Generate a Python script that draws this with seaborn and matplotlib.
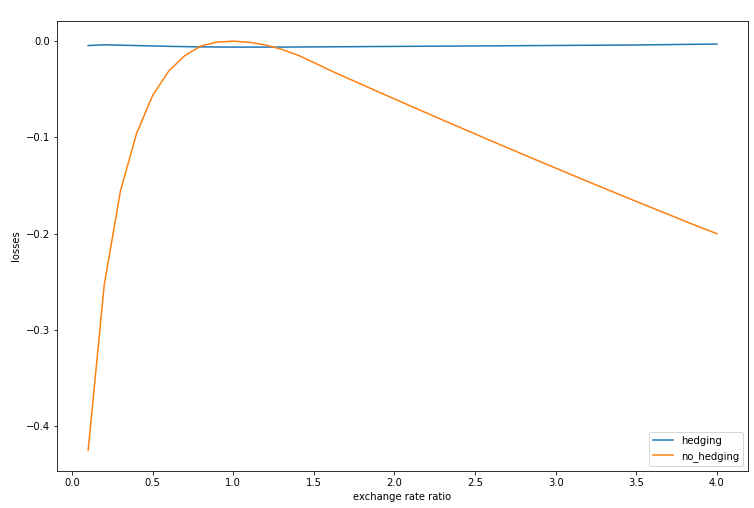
import matplotlib
matplotlib.use("Agg")
import matplotlib.pyplot as plt
import pandas as pd
import seaborn as sns

# exchange rate ratio grid (0.1 .. 4.0)
ratio = [round(0.1 * i, 1) for i in range(1, 41)]

# losses
hedging = [-0.0046, -0.0038, -0.0042, -0.0046, -0.0050, -0.0054, -0.0057, -0.0060, -0.0061, -0.0062,
           -0.0062, -0.0062, -0.0062, -0.0061, -0.0060, -0.0059, -0.0058, -0.0057, -0.0056, -0.0055,
           -0.0054, -0.0053, -0.0052, -0.0051, -0.0050, -0.0049, -0.0048, -0.0047, -0.0046, -0.0045,
           -0.0044, -0.0043, -0.0042, -0.0041, -0.0040, -0.0038, -0.0036, -0.0034, -0.0032, -0.0031]

no_hedging = [-0.425, -0.253, -0.156, -0.096, -0.0565, -0.031, -0.015, -0.005, -0.001, 0.0,
              -0.0012, -0.0040, -0.0085, -0.0145, -0.0222, -0.0303, -0.0378, -0.0452, -0.0527, -0.0600,
              -0.0674, -0.0747, -0.0820, -0.0892, -0.0964, -0.1036, -0.1107, -0.1178, -0.1249, -0.1319,
              -0.1389, -0.1459, -0.1528, -0.1597, -0.1665, -0.1733, -0.1801, -0.1869, -0.1936, -0.2000]

df = pd.DataFrame({"ratio": ratio, "hedging": hedging, "no_hedging": no_hedging})

fig = plt.figure(figsize=(754 / 72, 508 / 72), dpi=72)
ax = fig.add_axes([0.0752, 0.0734, 0.9173, 0.8859])

sns.lineplot(data=df, x="ratio", y="hedging", ax=ax, color="C0", label="hedging")
sns.lineplot(data=df, x="ratio", y="no_hedging", ax=ax, color="C1", label="no_hedging")

ax.set_xlabel("exchange rate ratio")
ax.set_ylabel("losses")
ax.legend(loc="lower right")

fig.savefig("out.png", dpi=72)
